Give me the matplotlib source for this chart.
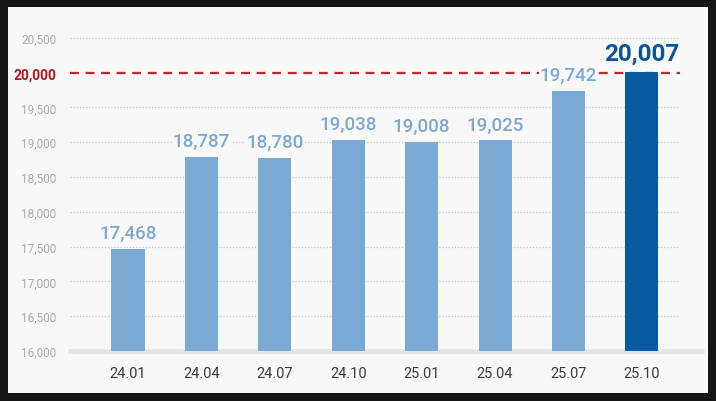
import matplotlib
matplotlib.use("Agg")
import matplotlib.pyplot as plt
from matplotlib.patches import Rectangle
from matplotlib.lines import Line2D

# data
periods = ["24.01", "24.04", "24.07", "24.10", "25.01", "25.04", "25.07", "25.10"]
values = [17468, 18787, 18780, 19038, 19008, 19025, 19742, 20007]
y_ticks = [16000, 16500, 17000, 17500, 18000, 18500, 19000, 19500, 20000, 20500]
target = 20000

BG = "#f8f8f8"
LIGHT = "#7aaad4"
DARK = "#0a5aa0"
LABEL_LIGHT = "#7ea8cf"
LABEL_DARK = "#0b5596"
RED = "#c0272d"
FONT = "Roboto"


def main():
    W, H = 716, 402
    fig = plt.figure(figsize=(W / 100, H / 100), dpi=100)
    fig.patch.set_facecolor("#161616")
    fig.patches.append(Rectangle((8 / W, 8 / H), 700 / W, 386 / H,
                                 transform=fig.transFigure, facecolor=BG,
                                 edgecolor="none", zorder=-5))

    ylo, yhi = 16000, 20600
    px_per_unit = 34.8 / 500
    ax_h = (yhi - ylo) * px_per_unit
    ax = fig.add_axes([70 / W, 50 / H, 610 / W, ax_h / H])
    ax.set_facecolor("none")
    ax.set_ylim(ylo, yhi)
    ax.set_xlim(-0.79, 7.52)

    x = list(range(len(periods)))
    colors = [LIGHT] * (len(values) - 1) + [DARK]
    ax.bar(x, [v - ylo for v in values], bottom=ylo, width=0.45,
           color=colors, zorder=3)

    # dotted grid
    for t in y_ticks[1:]:
        if t == target:
            continue
        ax.axhline(t, color="#c8c8c8", lw=0.9, ls=(0, (1, 1.5)), zorder=1)
    ax.axhline(target, color=RED, lw=1.6, ls=(0, (4, 3)), zorder=2)

    # baseline band
    ax.add_line(Line2D([-0.003, 1.04], [0, 0], transform=ax.transAxes,
                       color="#e4e4e4", lw=3.5, clip_on=False, zorder=2,
                       solid_capstyle="butt"))

    # value labels
    for i, v in enumerate(values):
        last = i == len(values) - 1
        ax.annotate(f"{v:,}", (i, v), xytext=(0, 12 if last else 11),
                    textcoords="offset pixels",
                    ha="center", va="baseline", family=FONT,
                    fontsize=17.5 if last else 13.5,
                    fontweight="bold" if last else "medium",
                    color=LABEL_DARK if last else LABEL_LIGHT, zorder=4,
                    bbox=dict(facecolor=BG, edgecolor="none", pad=0.5))

    ax.set_yticks(y_ticks)
    ax.set_yticklabels([f"{t:,}" for t in y_ticks])
    for lbl, t in zip(ax.get_yticklabels(), y_ticks):
        lbl.set_family(FONT)
        if t == target:
            lbl.set_color("#b01820")
            lbl.set_fontweight("bold")
            lbl.set_fontsize(10)
        else:
            lbl.set_color("#ababab")
            lbl.set_fontsize(8.5)
    ax.set_xticks(x)
    ax.set_xticklabels(periods, family=FONT, fontsize=10.5, color="#3a3a3a")
    ax.tick_params(axis="both", length=0)
    ax.tick_params(axis="y", pad=10)
    ax.tick_params(axis="x", pad=11)
    for s in ax.spines.values():
        s.set_visible(False)

    fig.savefig("out.png", dpi=100, facecolor=fig.get_facecolor())


if __name__ == "__main__":
    main()
